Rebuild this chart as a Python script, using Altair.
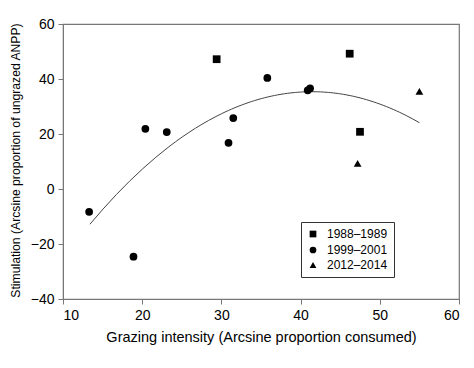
import altair as alt
import pandas as pd

period = ["1988–1989"] * 3 + ["1999–2001"] * 9 + ["2012–2014"] * 2
grazing = [29.4, 46.2, 47.5, 13.3, 18.9, 20.4, 23.1, 30.9, 31.5, 35.8, 40.9, 41.2, 47.2, 55.0]
stim = [47.2, 49.2, 20.8, -8.3, -24.6, 21.9, 20.7, 16.8, 25.8, 40.4, 35.9, 36.6, 9.3, 35.5]

df = pd.DataFrame({"period": period, "x": grazing, "y": stim})

font = "Liberation Sans"
xs = alt.Scale(domain=[10, 60], nice=False, zero=False)
ys = alt.Scale(domain=[-40, 60], nice=False, zero=False)

points = alt.Chart(df).mark_point(filled=True, opacity=1, size=60, color="black").encode(
    x=alt.X("x:Q", scale=xs, axis=alt.Axis(
        title="Grazing intensity (Arcsine proportion consumed)", values=[10, 20, 30, 40, 50, 60],
        titleFontSize=14.5, titlePadding=8)),
    y=alt.Y("y:Q", scale=ys, axis=alt.Axis(
        title="Stimulation (Arcsine proportion of ungrazed ANPP)", values=[-40, -20, 0, 20, 40, 60],
        titleFontSize=12.2, titleY=136, titlePadding=8, titleLimit=500)),
    shape=alt.Shape("period:N", scale=alt.Scale(
        domain=["1988–1989", "1999–2001", "2012–2014"],
        range=["square", "circle", "triangle-up"]),
        legend=alt.Legend(title=None, orient="none", legendX=238, legendY=198,
                          strokeColor="#333", padding=6, labelFontSize=12,
                          labelFont=font, symbolFillColor="black", symbolStrokeColor="black",
                          symbolSize=45, rowPadding=2, labelOffset=8)),
)

curve = alt.Chart(df).transform_regression(
    "x", "y", method="poly", order=2, extent=[13.4, 55.0]
).mark_line(color="#444", strokeWidth=1).encode(x=alt.X("x:Q", scale=xs), y=alt.Y("y:Q", scale=ys))

chart = alt.layer(curve, points).properties(
    width=396, height=275, autosize="none",
    padding={"left": 55, "top": 16, "right": 7, "bottom": 60}
).configure_view(stroke="#777", strokeWidth=1.2).configure_axis(
    domainColor="#777", tickColor="#777", grid=False, labelFont=font, titleFont=font,
    labelFontSize=14, titleFontWeight="normal", labelColor="black",
    titleColor="black", tickSize=5, labelPadding=4
)

chart.save("out.html", embed_options={"renderer": "svg", "actions": False})
